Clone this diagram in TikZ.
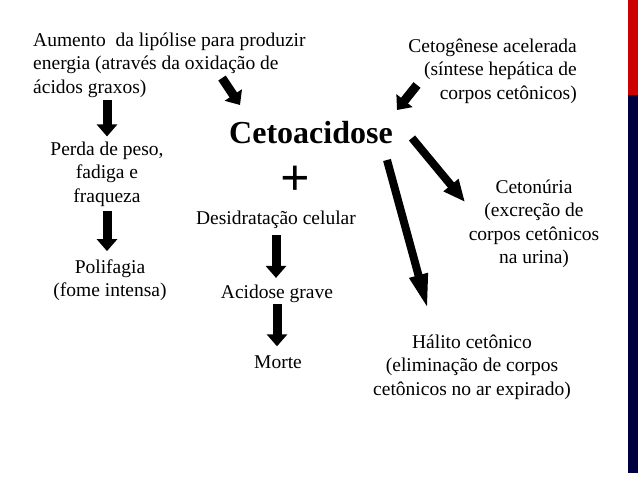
\documentclass[tikz,border=0pt]{standalone}
\usepackage{fontspec}
\setmainfont{Liberation Serif}
\usetikzlibrary{arrows.meta}
\usetikzlibrary{positioning}
\definecolor{stripred}{RGB}{204,0,0}
\definecolor{stripnavy}{RGB}{0,0,64}

\begin{document}
\begin{tikzpicture}[x=1pt, y=-1pt]
	\tikzstyle{txt}=[inner sep=0pt, font=\fontsize{19.5}{23.5}\selectfont];
	\tikzstyle{blk}=[line width=9pt, -{Triangle[length=12pt, width=20pt]}];
	\tikzstyle{slim}=[line width=8pt, -{Triangle[length=26pt, width=17pt]}];
	\useasboundingbox (0,0) rectangle (638,479);
	% faixa lateral
	\fill[stripred] (628,0) rectangle (638,95);
	\fill[stripnavy] (628,95) rectangle (638,473);
	% textos
	\node[txt, align=left, anchor=west] (lipo) at (33,65)
		{Aumento\ \ da lipólise para produzir\\energia (através da oxidação de\\ácidos graxos)};
	\node[txt, align=right, anchor=east] (cetog) at (577,71)
		{Cetogênese acelerada\\(síntese hepática de\\corpos cetônicos)};
	\node[txt, align=center] (perda) at (107,174) {Perda de peso,\\fadiga e\\fraqueza};
	\node[txt, align=center] (polif) at (110,280) {Polifagia\\(fome intensa)};
	\node[inner sep=0pt, font=\fontsize{32}{36}\selectfont\bfseries] (ceto) at (311,133) {Cetoacidose};
	\node[inner sep=0pt, font=\fontsize{52}{52}\selectfont\bfseries] (mais) at (295,181) {+};
	\node[txt] (desid) at (276,220) {Desidratação celular};
	\node[txt] (acid) at (277,294) {Acidose grave};
	\node[txt] (morte) at (278,362) {Morte};
	\node[txt, align=center] (cetur) at (534,224)
		{Cetonúria\\(excreção de\\corpos cetônicos\\na urina)};
	\node[txt, align=center] (halito) at (472,367)
		{Hálito cetônico\\(eliminação de corpos\\cetônicos no ar expirado)};
	% pontas das setas diagonais
	\coordinate (lipoA) at (222,78);
	\coordinate (lipoB) at (240,105);
	\coordinate (cetogA) at (417,85);
	\coordinate (cetogB) at (397,110);
	\coordinate (urA) at (412,138);
	\coordinate (urB) at (465,202);
	\coordinate (halA) at (387,160);
	\coordinate (halB) at (428,310);
	% setas
	\draw[blk, shorten <=2pt, shorten >=5pt] (perda.north |- lipo.south) -- (perda.north);
	\draw[blk, shorten <=4pt, shorten >=8pt] (perda.south) -- (perda.south |- polif.north);
	\draw[blk, shorten <=6pt, shorten >=7pt] (desid.south) -- (desid.south |- acid.north);
	\draw[blk, shorten <=1pt, shorten >=9pt] (acid.south) -- (acid.south |- morte.north);
	\draw[blk] (lipoA) -- (lipoB);
	\draw[blk] (cetogA) -- (cetogB);
	\draw[slim, -{Triangle[length=22pt, width=18pt]}] (urA) -- (urB);
	\draw[slim, -{Triangle[length=36pt, width=17pt]}] (halA) -- (halB);
\end{tikzpicture}
\end{document}
